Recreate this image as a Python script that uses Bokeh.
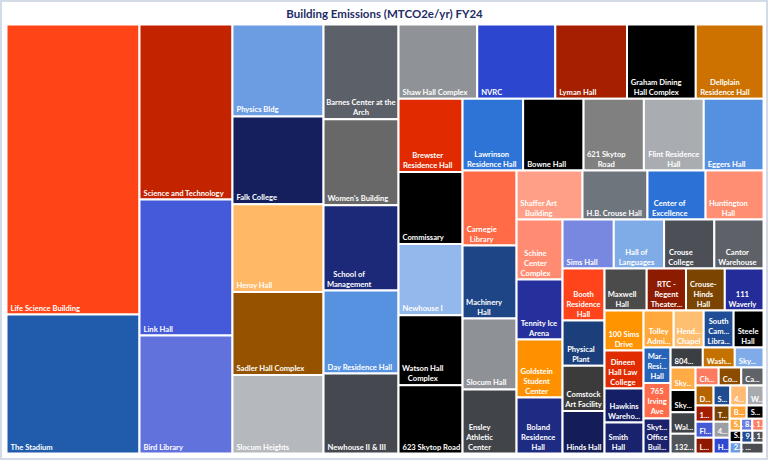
from bokeh.plotting import figure
from bokeh.models import Range1d, ColumnDataSource, Label
from bokeh.core.properties import value
from bokeh.embed import file_html
from bokeh.resources import INLINE

# ---------------- data ----------------
buildings = [
    "Life Science Building", "The Stadium",
    "Science and Technology", "Link Hall", "Bird Library",
    "Physics Bldg", "Falk College", "Heroy Hall", "Sadler Hall Complex", "Slocum Heights",
    "Barnes Center at the\nArch", "Women's Building", "School of\nManagement", "Day Residence Hall", "Newhouse II & III",
    "Shaw Hall Complex", "NVRC", "Lyman Hall", "Graham Dining\nHall Complex", "Dellplain\nResidence Hall",
    "Brewster\nResidence Hall", "Commissary", "Newhouse I", "Watson Hall\nComplex", "623 Skytop Road",
    "Lawrinson\nResidence Hall", "Bowne Hall", "621 Skytop\nRoad", "Flint Residence\nHall", "Eggers Hall",
    "Carnegie\nLibrary", "Machinery\nHall", "Slocum Hall", "Ensley\nAthletic\nCenter",
    "Shaffer Art\nBuilding", "H.B. Crouse Hall", "Center of\nExcellence", "Huntington\nHall",
    "Schine\nCenter\nComplex", "Tennity Ice\nArena", "Goldstein\nStudent\nCenter", "Boland\nResidence\nHall",
    "Sims Hall", "Hall of\nLanguages", "Crouse\nCollege", "Cantor\nWarehouse",
    "Booth\nResidence\nHall", "Physical\nPlant", "Comstock\nArt Facility", "Hinds Hall",
    "Maxwell\nHall", "RTC -\nRegent\nTheater...", "Crouse-\nHinds\nHall", "111\nWaverly",
    "100 Sims\nDrive", "Dineen\nHall Law\nCollege", "Hawkins\nWareho...", "Smith\nHall",
    "Tolley\nAdmi...", "Hend...\nChapel", "South\nCam...\nLibra...", "Steele\nHall",
    "Mar...\nResi...\nHall", "765\nIrving\nAve", "Skyt...\nOffice\nBuil...",
    "804...", "Wash...", "Sky...",
    "Sky...", "Sky...", "Wal...", "132...",
    "Ch...", "Co...", "Ca...",
    "D...", "S...", "4...", "W...",
    "1...", "Fl...", "L...",
    "T...", "4...", "H...",
    "B...", "S...",
    "S...", "8...", "1...",
    "S...", "2...",
    "9...", "1...",
    "...",
]

emissions = [
    38570, 18487,
    16275, 12648, 10974,
    8372, 8008, 7990, 7553, 7150,
    7100, 6450, 6400, 6225, 6000,
    5846, 5800, 5328, 5106, 5032,
    4685, 4620, 4555, 4490, 4365,
    4350, 4340, 4330, 4300, 4290,
    4050, 3940, 3830, 3460,
    3234, 3185, 2850, 2840,
    2760, 2755, 2668, 2576,
    2510, 2465, 2460, 2410,
    2180, 1900, 1895, 1790,
    1770, 1650, 1630, 1625,
    1560, 1482, 1326, 1209,
    1115, 1110, 1108, 1105,
    960, 955, 947,
    645, 640, 575,
    560, 555, 540, 495,
    415, 405, 400,
    360, 335, 333, 332,
    290, 288, 286,
    258, 256, 254,
    222, 220,
    137, 136, 135,
    134, 133,
    132, 131,
    240,
]

colors = [
    "#FF4517", "#205CAB",
    "#C42300", "#445AD8", "#6172DD",
    "#6C9CE2", "#151F5E", "#FFB966", "#955300", "#B5B8BC",
    "#5C6069", "#686868", "#1C2979", "#5692DF", "#45484E",
    "#8F9297", "#2C46D0", "#A61F00", "#000000", "#CD7100",
    "#E12A00", "#000000", "#93B8EB", "#000000", "#000000",
    "#2E74D7", "#000000", "#808080", "#A9ACB1", "#5691E1",
    "#FF6B47", "#1E4585", "#8E9196", "#414449",
    "#FF9F88", "#6F757D", "#2C71D6", "#FF8E72",
    "#FF8B72", "#25309C", "#FF9100", "#1E2B82",
    "#7888E1", "#7FABE7", "#4C4F55", "#5E6268",
    "#FF431A", "#1B3F7B", "#3B3B3B", "#151D59",
    "#4B4B4B", "#8C1B00", "#7B4400", "#232C99",
    "#FF9300", "#E12B00", "#151F65", "#19236D",
    "#FFA93D", "#FFBF71", "#1F4E97", "#000000",
    "#2764B9", "#FF6C4B", "#1A226C",
    "#3B3E43", "#C37200", "#80ABE9",
    "#FFAB46", "#000000", "#404347", "#515459",
    "#FF7B5F", "#8B4C00", "#5F6267",
    "#B66300", "#1F4B91", "#FFBB73", "#A7AAAF",
    "#A31D00", "#475AD6", "#8F1900",
    "#7B4300", "#9B9EA3", "#2F47D1",
    "#FFA33B", "#000000",
    "#FFAA40", "#6B7CE1", "#FF7F60",
    "#000000", "#6C9CE2",
    "#1F4B90", "#505358",
    "#4A4D52",
]

# number of items in each successive strip of the squarified layout
strip_sizes = [2, 3, 5, 5, 5, 5, 5, 4, 4, 4, 4, 4, 4, 4, 4, 3, 3, 4, 3, 4, 3, 3, 2, 3, 2, 2, 1]

TITLE = "Building Emissions (MTCO2e/yr) FY24"

# ---------------- layout ----------------
X0, Y0, X1, Y1 = 6.0, 24.0, 763.0, 453.0


def squarify_strips(vals, strips, x0, y0, x1, y1):
    scale = (x1 - x0) * (y1 - y0) / float(sum(vals))
    out = []
    i = 0
    for n in strips:
        grp = vals[i:i + n]
        area = sum(grp) * scale
        w, h = x1 - x0, y1 - y0
        if w > h + 1:
            t = area / h
            yy = y0
            for v in grp:
                hh = v * scale / t
                out.append((x0, x0 + t, yy, yy + hh))
                yy += hh
            x0 += t
        else:
            t = area / w
            xx = x0
            for v in grp:
                ww = v * scale / t
                out.append((xx, xx + ww, y0, y0 + t))
                xx += ww
            y0 += t
        i += n
    return out


rects = squarify_strips(emissions, strip_sizes, X0, Y0, X1, Y1)

FONT = "Lato"
FS = 7.6

_w = {' ': .278, 'i': .278, 'l': .278, 'j': .278, 'f': .333, 't': .333, 'r': .389,
      'I': .278, '.': .278, ',': .278, '-': .333, '&': .722, "'": .238, 'm': .889,
      'w': .778, 'M': .833, 'W': .944, 'J': .556, 'L': .611, 'T': .611, 'F': .611,
      'E': .667, 'S': .667, 'P': .667, 'b': .611, 'd': .611, 'g': .611, 'h': .611,
      'n': .611, 'o': .611, 'p': .611, 'q': .611, 'u': .611}


def text_w(s):
    tot = 0.0
    for ch in s:
        if ch in _w:
            tot += _w[ch]
        elif ch.isdigit():
            tot += .556
        elif ch.isupper():
            tot += .722
        else:
            tot += .556
    return tot * FS * 0.93


lx, ly, lt = [], [], []
cx, cy, ct = [], [], []
for (l, r, t, b), lab in zip(rects, buildings):
    lines = lab.split("\n")
    n = len(lines)
    if n == 1:
        lx.append(l + 4)
        ly.append(b - 7)
        lt.append(lab)
    else:
        mw = max(text_w(s) for s in lines)
        c = l + 4 + mw / 2.0
        if c > (l + r) / 2.0:
            c = (l + r) / 2.0
        for k, s in enumerate(lines):
            cx.append(c)
            cy.append(b - 7 - 10 * (n - 1 - k))
            ct.append(s)

src = ColumnDataSource(dict(
    left=[q[0] for q in rects], right=[q[1] for q in rects],
    top=[q[2] for q in rects], bottom=[q[3] for q in rects],
    color=colors, name=buildings, value=emissions,
))

p = figure(width=768, height=460, x_range=Range1d(0, 768), y_range=Range1d(460, 0),
           output_backend="svg", toolbar_location=None, min_border=0)
p.axis.visible = False
p.xgrid.visible = False
p.ygrid.visible = False
p.background_fill_color = "white"
p.border_fill_color = "white"
p.outline_line_color = "#D3DBE8"
p.outline_line_width = 3

p.quad(left="left", right="right", top="top", bottom="bottom", source=src,
       fill_color="color", line_color="white", line_width=2)

p.text(x=lx, y=ly, text=lt, text_align="left", text_baseline="middle",
       text_color="white", text_font=value(FONT), text_font_style="bold",
       text_font_size=f"{FS}px")
p.text(x=cx, y=cy, text=ct, text_align="center", text_baseline="middle",
       text_color="white", text_font=value(FONT), text_font_style="bold",
       text_font_size=f"{FS}px")

p.add_layout(Label(x=384, y=13, text=TITLE, text_align="center", text_baseline="middle",
                   text_color="#1F2D66", text_font=FONT, text_font_style="bold",
                   text_font_size="11.5px"))

open("out.html", "w").write(file_html(p, INLINE))
